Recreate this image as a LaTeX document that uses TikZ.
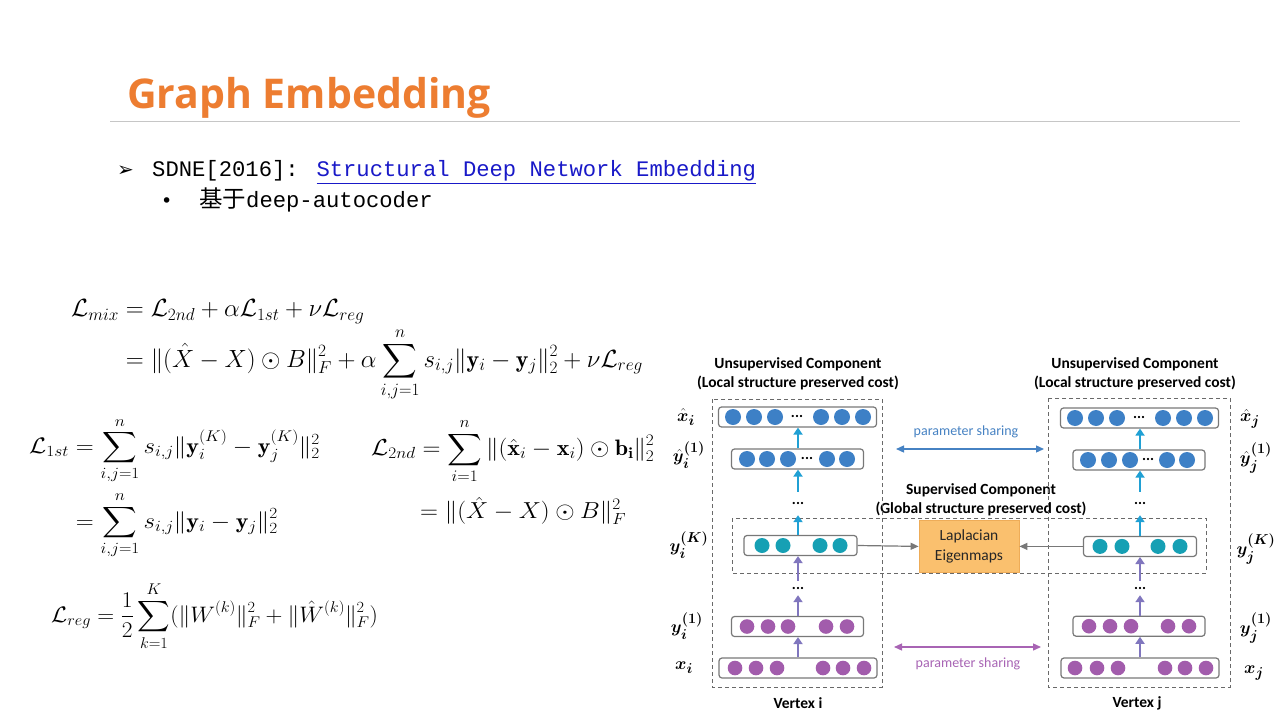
\documentclass[tikz,border=0pt]{standalone}
\usepackage{amsmath,amssymb,bm}
\usepackage{fontspec}
\usetikzlibrary{arrows.meta}
\newfontfamily\titlefont{Open Sans}
\newfontfamily\diagfont{Carlito}
\newfontfamily\monofnt{Liberation Mono}
\newfontfamily\cjkfnt{Noto Sans CJK SC}
\newfontfamily\symfnt{DejaVu Sans}
\definecolor{titleorange}{RGB}{237,125,49}
\definecolor{linkblue}{RGB}{25,25,200}
\definecolor{cblue}{RGB}{61,128,198}
\definecolor{cteal}{RGB}{22,160,180}
\definecolor{cpurple}{RGB}{162,92,172}
\definecolor{ablue}{RGB}{32,160,212}
\definecolor{apurple}{RGB}{128,118,190}
\definecolor{boxgray}{RGB}{120,120,120}
\definecolor{dashgray}{RGB}{105,105,105}
\definecolor{lapfill}{RGB}{250,192,110}
\definecolor{lapdraw}{RGB}{238,172,88}
\definecolor{shareblue}{RGB}{70,130,195}
\definecolor{sharepurple}{RGB}{168,100,180}
\newcommand{\mathsz}{\fontsize{24}{29}\selectfont}
\newcommand{\labsz}{\fontsize{19}{22}\selectfont}
\tikzset{
  layerbox/.style={draw=boxgray, line width=1.2pt, rounded corners=3pt, fill=white, inner sep=0pt, minimum height=20pt},
  dbox/.style={draw=dashgray, line width=1pt, dash pattern=on 4pt off 3pt},
  arrb/.style={draw=ablue, line width=2.6pt, -{Triangle[length=7pt,width=9pt]}},
  arrp/.style={draw=apurple, line width=2.6pt, -{Triangle[length=7pt,width=9pt]}},
  arrg/.style={draw=boxgray, line width=1.2pt, -{Triangle[length=8pt,width=7pt]}},
  share/.style={line width=1.3pt, {Triangle[length=8pt,width=7pt]}-{Triangle[length=8pt,width=7pt]}},
  dotsnode/.style={inner sep=0pt, minimum width=16pt, font=\diagfont\bfseries\fontsize{15}{15}\selectfont},
  hdr/.style={font=\diagfont\bfseries\fontsize{15.5}{19}\selectfont, align=center, inner sep=0pt},
  lab/.style={font=\labsz, inner sep=0pt},
  eq/.style={anchor=north west, inner sep=0pt, font=\mathsz}
}
\begin{document}
\begin{tikzpicture}[x=1pt,y=-1pt]
\useasboundingbox (0,0) rectangle (1280,720);
\fill[white] (0,0) rectangle (1280,720);

% header
\node[anchor=base west, inner sep=0pt, text=titleorange, font=\titlefont\bfseries\fontsize{41}{48}\selectfont] (title) at (127,108) {Graph Embedding};
\draw[gray!45, line width=1pt] (110,121) -- (1240,121);
\node[anchor=base west, inner sep=0pt, font=\symfnt\fontsize{20}{22}\selectfont] (b1) at (117,176) {➢};
\node[anchor=base west, inner sep=0pt, font=\monofnt\fontsize{22.2}{26}\selectfont] (l1) at (152,176) {SDNE[2016]: \textcolor{linkblue}{\underline{Structural Deep Network Embedding}}};
\node[anchor=base west, inner sep=0pt, font=\symfnt\fontsize{19}{20}\selectfont] (b2) at (161,207) {•};
\node[anchor=base west, inner sep=0pt, font=\monofnt\fontsize{22.2}{26}\selectfont] (l2) at (199,207) {{\cjkfnt\fontsize{23.5}{26}\selectfont 基于}deep-autocoder};

% equations
\node[eq] (eqmix) at (71,296) {$\begin{aligned}\mathcal{L}_{mix} &= \mathcal{L}_{2nd}+\alpha\mathcal{L}_{1st}+\nu\mathcal{L}_{reg}\\[-2pt]
 &= \|(\hat{X}-X)\odot B\|_F^2+\alpha\sum_{i,j=1}^{n}s_{i,j}\|\mathbf{y}_i-\mathbf{y}_j\|_2^2+\nu\mathcal{L}_{reg}\end{aligned}$};
\node[eq] (eq1st) at (29,417) {\scalebox{1}[0.9]{$\begin{aligned}\mathcal{L}_{1st} &= \sum_{i,j=1}^{n}s_{i,j}\|\mathbf{y}_i^{(K)}-\mathbf{y}_j^{(K)}\|_2^2\\[5pt]
 &= \sum_{i,j=1}^{n}s_{i,j}\|\mathbf{y}_i-\mathbf{y}_j\|_2^2\end{aligned}$}};
\node[eq] (eq2nd) at (371,418) {\scalebox{1}[0.93]{$\begin{gathered}\mathcal{L}_{2nd} = \sum_{i=1}^{n}\|(\hat{\mathbf{x}}_i-\mathbf{x}_i)\odot\mathbf{b_i}\|_2^2\\[10pt]
 \;\;\;= \|(\hat{X}-X)\odot B\|_F^2\end{gathered}$}};
\node[eq] (eqreg) at (51,582) {\scalebox{0.94}[0.9]{$\mathcal{L}_{reg} = \dfrac{1}{2}\displaystyle\sum_{k=1}^{K}(\|W^{(k)}\|_F^2+\|\hat{W}^{(k)}\|_F^2)$}};

% ---------- diagram ----------
\node[hdr] (hl) at (798,374) {Unsupervised Component\\(Local structure preserved cost)};
\node[hdr] (hr) at (1135,374) {Unsupervised Component\\(Local structure preserved cost)};
\node[hdr] (hs) at (981,500) {Supervised Component\\(Global structure preserved cost)};

\draw[dbox] (712,399) rectangle (882,687);
\draw[dbox] (1048,398) rectangle (1230,687);
\draw[dbox] (732,518) rectangle (1206,573);

% left column layers
\node[layerbox, minimum width=158pt] (La) at (797.5,417) {};
\node[layerbox, minimum width=132pt] (Lb) at (797.5,459) {};
\node[layerbox, minimum width=113pt] (Lc) at (800.5,545.5) {};
\node[layerbox, minimum width=132pt] (Ld) at (797.5,626.5) {};
\node[layerbox, minimum width=158pt] (Le) at (798,668) {};
\foreach \cx in {733,754,775,821,842,863} \fill[cblue] (\cx,417) circle[radius=8pt];
\node[dotsnode] at (797,416) {...};
\foreach \cx in {747,767,788,827,847} \fill[cblue] (\cx,459) circle[radius=8pt];
\node[dotsnode] at (807,458) {...};
\foreach \cx in {762,783,820,840} \fill[cteal] (\cx,545.5) circle[radius=7.5pt];
\foreach \cx in {747,768,788,826,847} \fill[cpurple] (\cx,626.5) circle[radius=7.3pt];
\foreach \cx in {735,756,777,823,843,864} \fill[cpurple] (\cx,668) circle[radius=7.3pt];
\node[dotsnode, minimum height=23pt] (Dla) at (798,503.5) {...};
\node[dotsnode, minimum height=14pt] (Dlb) at (798,588) {...};
\draw[arrb] (Lb.north -| 798,0) -- (La.south -| 798,0);
\draw[arrb] (Dla.north) -- (Lb.south -| 798,0);
\draw[arrb] (Lc.north -| 798,0) -- (Dla.south);
\draw[arrp] (Dlb.north) -- (Lc.south -| 798,0);
\draw[arrp] (Ld.north -| 798,0) -- (Dlb.south);
\draw[arrp] (Le.north -| 798,0) -- (Ld.south -| 798,0);

% right column layers
\node[layerbox, minimum width=158pt] (Ra) at (1139.5,418) {};
\node[layerbox, minimum width=132pt] (Rb) at (1139,460) {};
\node[layerbox, minimum width=113pt] (Rc) at (1140,546.4) {};
\node[layerbox, minimum width=132pt] (Rd) at (1139,626.2) {};
\node[layerbox, minimum width=158pt] (Re) at (1140,668) {};
\foreach \cx in {1075,1096,1117,1163,1184,1205} \fill[cblue] (\cx,418) circle[radius=8pt];
\node[dotsnode] at (1139,417) {...};
\foreach \cx in {1088,1109,1130,1167,1187} \fill[cblue] (\cx,460) circle[radius=8pt];
\node[dotsnode] at (1148,459) {...};
\foreach \cx in {1100,1122,1158,1180} \fill[cteal] (\cx,546.4) circle[radius=7.5pt];
\foreach \cx in {1089,1110,1131,1168,1189} \fill[cpurple] (\cx,626.2) circle[radius=7.3pt];
\foreach \cx in {1075,1097,1118,1165,1185,1206} \fill[cpurple] (\cx,668) circle[radius=7.3pt];
\node[dotsnode, minimum height=23pt] (Dra) at (1140,503.5) {...};
\node[dotsnode, minimum height=14pt] (Drb) at (1140,588) {...};
\draw[arrb] (Rb.north -| 1140,0) -- (Ra.south -| 1140,0);
\draw[arrb] (Dra.north) -- (Rb.south -| 1140,0);
\draw[arrb] (Rc.north -| 1140,0) -- (Dra.south);
\draw[arrp] (Drb.north) -- (Rc.south -| 1140,0);
\draw[arrp] (Rd.north -| 1140,0) -- (Drb.south);
\draw[arrp] (Re.north -| 1140,0) -- (Rd.south -| 1140,0);

% Laplacian
\node[draw=lapdraw, line width=0.8pt, fill=lapfill, minimum width=100pt, minimum height=52.5pt, inner sep=0pt, align=center, text=black!85, font=\diagfont\fontsize{15.5}{20}\selectfont] (lap) at (969,546.4) {Laplacian\\Eigenmaps};
\draw[arrg] (Lc.east) -- (lap.west);
\draw[arrg] (Rc.west) -- (lap.east);

% parameter sharing
\coordinate (sb1) at (896,449);
\coordinate (sb2) at (1044,449);
\draw[share, draw=shareblue] (sb1) -- (sb2);
\node[inner sep=0pt, text=shareblue, font=\diagfont\fontsize{14}{16}\selectfont] (tsb) at (966,432) {parameter sharing};
\coordinate (sp1) at (894,647);
\coordinate (sp2) at (1041,647);
\draw[share, draw=sharepurple] (sp1) -- (sp2);
\node[inner sep=0pt, text=sharepurple, font=\diagfont\fontsize{14}{16}\selectfont] (tsp) at (968,664) {parameter sharing};

% row labels
\node[lab] (xl1) at (686,417) {$\bm{\hat{x}_i}$};
\node[lab] (xl2) at (689,455) {$\bm{\hat{y}_i}^{\bm{(1)}}$};
\node[lab] (xl3) at (689,545) {$\bm{y_i}^{\bm{(K)}}$};
\node[lab] (xl4) at (687,626) {$\bm{y_i}^{\bm{(1)}}$};
\node[lab] (xl5) at (684,668) {$\bm{x_i}$};
\node[lab] (xr1) at (1250,419) {$\bm{\hat{x}_j}$};
\node[lab] (xr2) at (1256,458) {$\bm{\hat{y}_j}^{\bm{(1)}}$};
\node[lab] (xr3) at (1256,549) {$\bm{y_j}^{\bm{(K)}}$};
\node[lab] (xr4) at (1256,628) {$\bm{y_j}^{\bm{(1)}}$};
\node[lab] (xr5) at (1254,673) {$\bm{x_j}$};

\node[inner sep=0pt, font=\diagfont\bfseries\fontsize{15.5}{18}\selectfont] (vi) at (798,703) {Vertex i};
\node[inner sep=0pt, font=\diagfont\bfseries\fontsize{15.5}{18}\selectfont] (vj) at (1137,703) {Vertex j};
\end{tikzpicture}
\end{document}
